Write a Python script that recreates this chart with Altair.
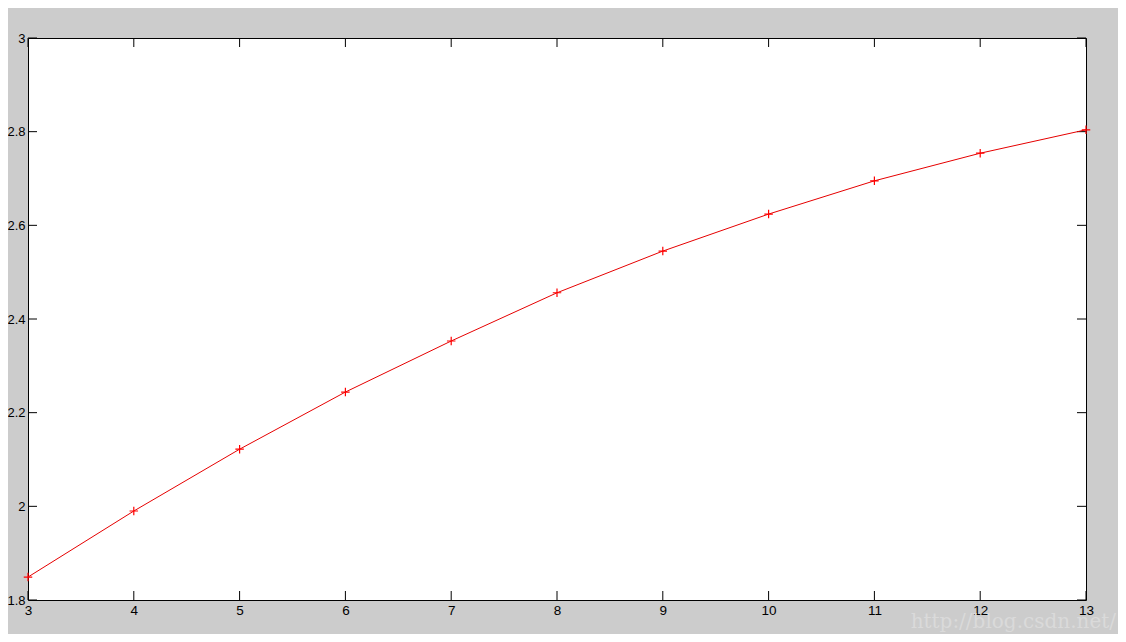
import altair as alt
import pandas as pd

x_vals = [3, 4, 5, 6, 7, 8, 9, 10, 11, 12, 13]
y_vals = [1.849, 1.990, 2.122, 2.244, 2.353, 2.456, 2.545, 2.624, 2.695, 2.754, 2.804]
x_ticks = [3, 4, 5, 6, 7, 8, 9, 10, 11, 12, 13]
y_ticks = [1.8, 2.0, 2.2, 2.4, 2.6, 2.8, 3.0]

W, H = 1058, 562
df = pd.DataFrame({"x": x_vals, "y": y_vals})
xt = pd.DataFrame({"t": x_ticks})
yt = pd.DataFrame({"t": y_ticks})

xs = alt.Scale(domain=[3, 13], nice=False, zero=False)
ys = alt.Scale(domain=[1.8, 3.0], nice=False, zero=False)

FONT = "Liberation Sans"

xaxis = alt.Axis(values=x_ticks, title=None, grid=False, ticks=False, domain=False,
                 labelFont=FONT, labelFontSize=13.5, labelColor="#000000", labelPadding=3,
                 format="d", labelFlush=False, labelOverlap=False)
yaxis = alt.Axis(values=y_ticks, title=None, grid=False, ticks=False, domain=False,
                 labelFont=FONT, labelFontSize=13, labelColor="#000000", labelPadding=3,
                 format=".1~f", labelFlush=False, labelOverlap=False)

wm = alt.Chart(pd.DataFrame({"s": ["http://blog.csdn.net/"]})).mark_text(
    font="DejaVu Serif", fontSize=20, color="#dadada", align="right", baseline="middle"
).encode(text="s:N", x=alt.value(W + 30), y=alt.value(H + 22))

line = alt.Chart(df).mark_line(color="#e60000", strokeWidth=1).encode(
    x=alt.X("x:Q", scale=xs, axis=xaxis),
    y=alt.Y("y:Q", scale=ys, axis=yaxis),
)
pts = alt.Chart(df).mark_point(
    shape="M-1,0L1,0M0,-1L0,1", size=72, filled=False, stroke="#ff0000", strokeWidth=1.2, opacity=1
).encode(x=alt.X("x:Q", scale=xs, axis=xaxis), y=alt.Y("y:Q", scale=ys, axis=yaxis))

TL = 9
xb = alt.Chart(xt).mark_rule(color="black", strokeWidth=1).encode(
    x=alt.X("t:Q", scale=xs, axis=xaxis), y=alt.value(H), y2=alt.value(H - TL))
xtop = alt.Chart(xt).mark_rule(color="black", strokeWidth=1).encode(
    x=alt.X("t:Q", scale=xs, axis=xaxis), y=alt.value(0), y2=alt.value(TL))
yl = alt.Chart(yt).mark_rule(color="black", strokeWidth=1).encode(
    y=alt.Y("t:Q", scale=ys, axis=yaxis), x=alt.value(0), x2=alt.value(TL))
yr = alt.Chart(yt).mark_rule(color="black", strokeWidth=1).encode(
    y=alt.Y("t:Q", scale=ys, axis=yaxis), x=alt.value(W), x2=alt.value(W - TL))

chart = alt.layer(wm, xb, xtop, yl, yr, line, pts).properties(
    width=W, height=H,
    background="#cccccc",
    padding={"left": 20, "top": 30, "right": 32, "bottom": 34},
    autosize=alt.AutoSizeParams(type="none"),
).configure_view(fill="white", stroke="black", strokeWidth=1)

chart.save("out.html", embed_options={"renderer": "svg", "actions": False})
